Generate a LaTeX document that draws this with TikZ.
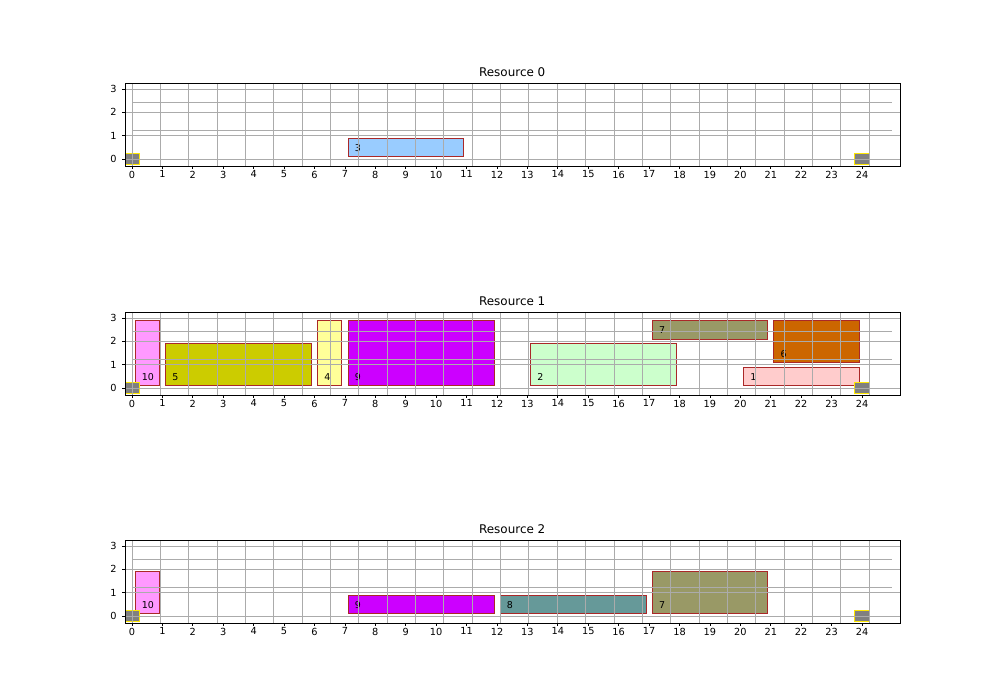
\documentclass[tikz,border=0pt]{standalone}
\usepackage{fontspec}
\setmainfont{DejaVu Sans}
\begin{document}
\begin{tikzpicture}[x=1bp,y=1bp,
  task/.style={draw={rgb,255:red,170;green,40;blue,40},line width=0.8bp},
  lbl/.style={anchor=base west,inner sep=0,font=\fontsize{9.5}{10}\selectfont},
  tick/.style={font=\fontsize{9.8}{10}\selectfont}]
\useasboundingbox (0,0) rectangle (1000,700);
\definecolor{c10}{HTML}{FF99FF}\definecolor{c5}{HTML}{CCCC00}\definecolor{c4}{HTML}{FFFF99}
\definecolor{c9}{HTML}{CC00FF}\definecolor{c2}{HTML}{CCFFCC}\definecolor{c7}{HTML}{999966}
\definecolor{c6}{HTML}{CC6600}\definecolor{c1}{HTML}{FFCCCC}\definecolor{c3}{HTML}{99CCFF}
\definecolor{c8}{HTML}{669999}
% #1 = bottom pixel of axes, #2 title, #3 tasks list
\newcommand{\resaxes}[3]{%
\begin{scope}[shift={(132,{700-(#1-7)})},x=30.417bp,y=23.33bp]
 \begin{scope}
  \clip (-0.23,-0.3) rectangle (25.25,3.22);
  \foreach \t/\xa/\ya/\xb/\yb/\c in {#3}{
    \fill[\c] (\xa,\ya) rectangle (\xb,\yb);
    \draw[task] (\xa,\ya) rectangle (\xb,\yb);
    \node[lbl] (l\t) at ({\xa+0.22},{\ya+0.22}) {\t};}
  \foreach \p in {0,24}{
    \fill[gray] (\p-0.25,-0.25) rectangle (\p+0.25,0.25);
    \draw[yellow!90!orange,line width=0.8bp] (\p-0.25,-0.25) rectangle (\p+0.25,0.25);}
  \draw[black!33,line width=0.8bp] (0,-0.3) grid (24.99,3.22);
  \foreach \y in {0,...,3} \draw[black!33,line width=0.8bp] (-0.23,\y) -- (25.25,\y);
 \end{scope}
 \draw[line width=0.8bp] (-0.23,-0.3) rectangle (25.25,3.22);
 \foreach \x in {0,...,24}{
   \draw[line width=0.8bp] (\x,-0.3) -- ++(0,-3.5bp);
   \node[tick,anchor=north,inner sep=0] (tx\x) at (\x,-0.5) {\x};}
 \foreach \y in {0,...,3}{
   \draw[line width=0.8bp] (-0.23,\y) -- ++(-3.5bp,0);
   \node[tick,anchor=east,inner sep=0] (ty\y) at (-0.5,\y) {\y};}
 \node[font=\fontsize{12}{12}\selectfont,anchor=base] (title) at (12.5,3.55) {#2};
\end{scope}}
\resaxes{166}{Resource 0}{3/7.1/0.1/10.9/0.9/c3}
\resaxes{395}{Resource 1}{10/0.1/0.1/0.9/2.9/c10,5/1.1/0.1/5.9/1.9/c5,4/6.1/0.1/6.9/2.9/c4,9/7.1/0.1/11.9/2.9/c9,2/13.1/0.1/17.9/1.9/c2,7/17.1/2.1/20.9/2.9/c7,6/21.1/1.1/23.9/2.9/c6,1/20.1/0.1/23.9/0.9/c1}
\resaxes{623}{Resource 2}{10/0.1/0.1/0.9/1.9/c10,9/7.1/0.1/11.9/0.9/c9,8/12.1/0.1/16.9/0.9/c8,7/17.1/0.1/20.9/1.9/c7}
\end{tikzpicture}
\end{document}
